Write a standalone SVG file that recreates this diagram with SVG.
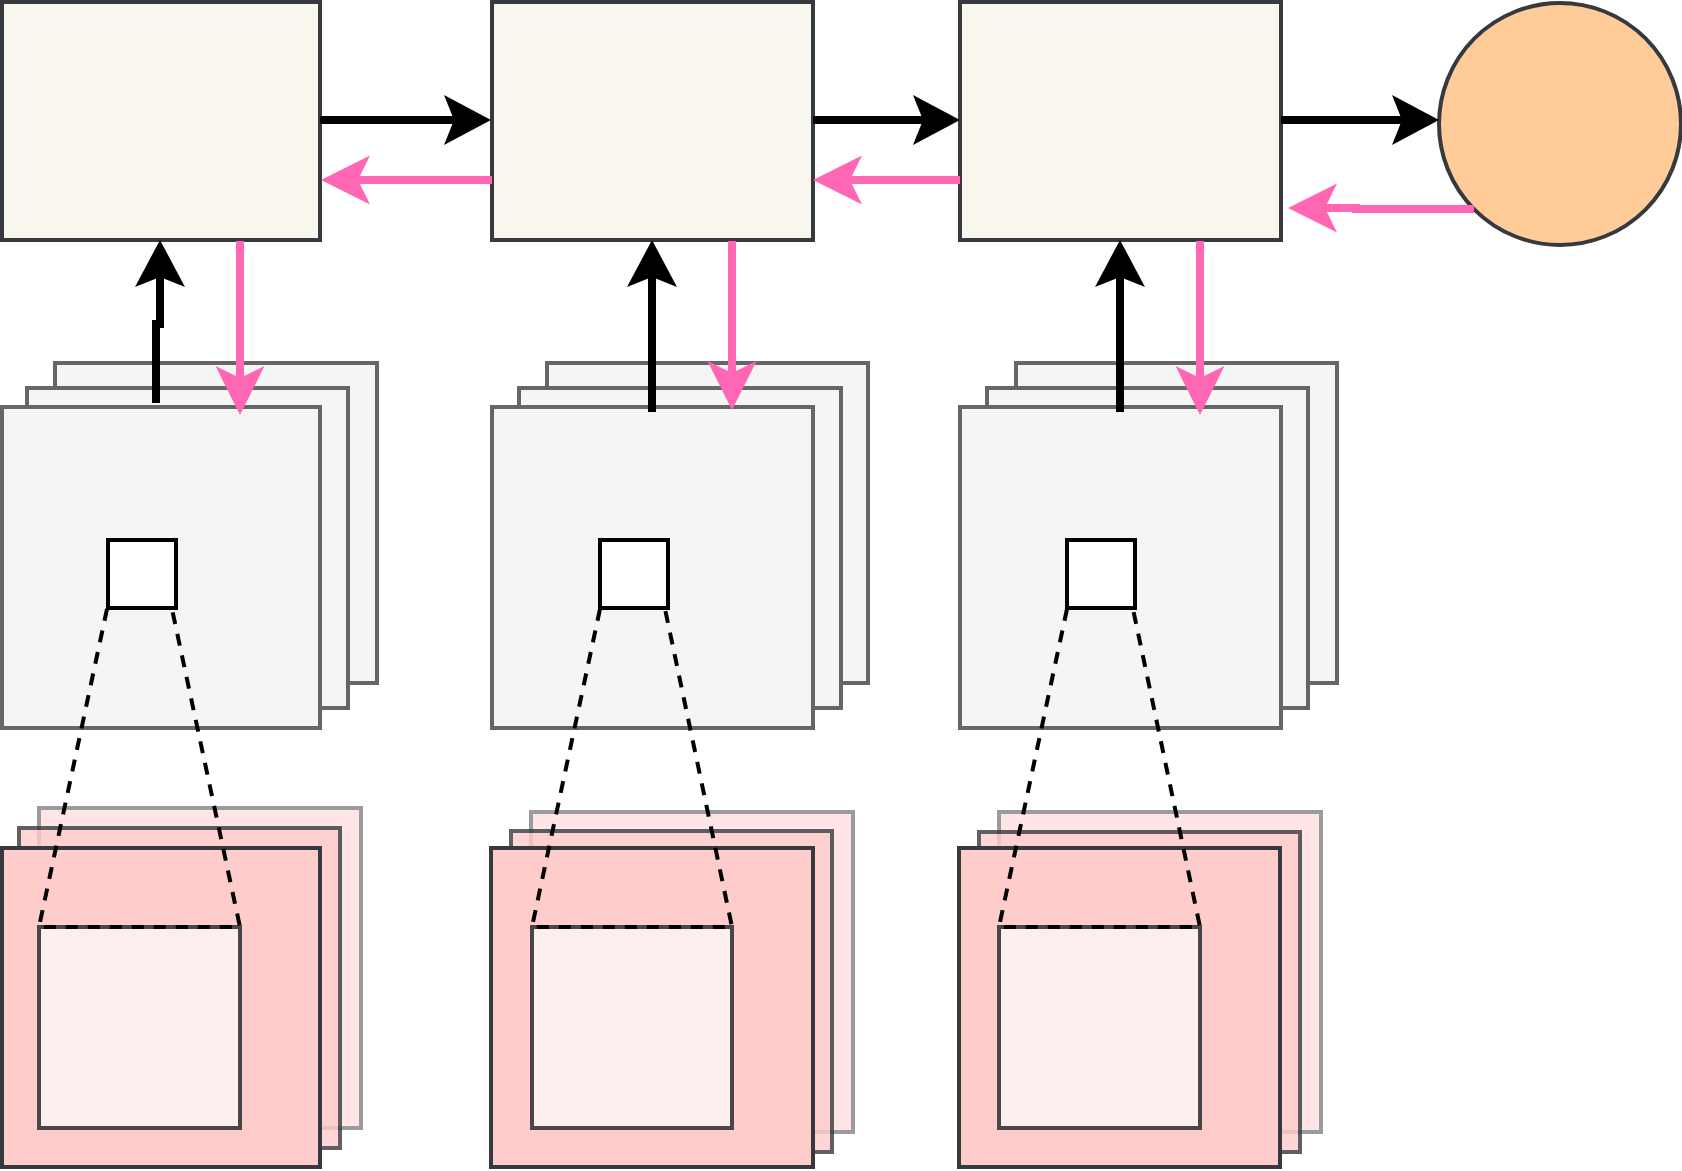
<svg xmlns="http://www.w3.org/2000/svg" width="1682" height="1171" viewBox="0 0 1682 1171">
<style>
.top{fill:#f9f7ed;stroke:#36393d;stroke-width:4}
.gray{fill:#f5f5f5;stroke:#666666;stroke-width:4}
.sq{fill:#ffffff;stroke:#000000;stroke-width:4}
.pk{fill:#ffcccc;stroke:#36393d;stroke-width:4}
.pk50{opacity:0.5}
.pk80{opacity:0.8}
.inner{fill:#fdeeee;stroke:#4a4548;stroke-width:4}
.blk{fill:none;stroke:#000000;stroke-width:8}
.pnk{fill:none;stroke:#ff66b3;stroke-width:8}
.dash{fill:none;stroke:#000000;stroke-width:4;stroke-dasharray:12 10}
</style>
<defs>
<marker id="ab" markerUnits="userSpaceOnUse" markerWidth="120" markerHeight="120" refX="0" refY="0" viewBox="-60 -60 120 120" orient="auto" overflow="visible">
<path d="M37,0 L-10,-25 L0,0 L-10,25 Z" fill="#000000"/>
</marker>
<marker id="ap" markerUnits="userSpaceOnUse" markerWidth="120" markerHeight="120" refX="0" refY="0" viewBox="-60 -60 120 120" orient="auto" overflow="visible">
<path d="M37,0 L-12,-24.5 L0,0 L-12,24.5 Z" fill="#ff66b3"/>
</marker>
</defs>
<rect width="1682" height="1171" fill="#ffffff"/>

<g id="stack1">
<rect class="gray" x="55" y="363" width="322" height="320"/>
<rect class="gray" x="27" y="388" width="321" height="320"/>
<rect class="gray" x="2" y="407" width="318" height="321"/>
<rect class="sq" x="108" y="540" width="68" height="68"/>
</g>
<g id="stack2">
<rect class="gray" x="547" y="363" width="321" height="320"/>
<rect class="gray" x="519" y="388" width="322" height="320"/>
<rect class="gray" x="492" y="407" width="321" height="321"/>
<rect class="sq" x="600" y="540" width="68" height="68"/>
</g>
<g id="stack3">
<rect class="gray" x="1016" y="363" width="321" height="320"/>
<rect class="gray" x="987" y="388" width="321" height="320"/>
<rect class="gray" x="960" y="407" width="321" height="321"/>
<rect class="sq" x="1067" y="540" width="68" height="68"/>
</g>

<g id="box1"><rect class="top" x="2" y="2" width="318" height="238"/></g>
<g id="box2"><rect class="top" x="492" y="2" width="321" height="238"/></g>
<g id="box3"><rect class="top" x="960" y="2" width="321" height="238"/></g>
<g id="circle"><circle cx="1560" cy="124" r="121" fill="#ffcc99" stroke="#36393d" stroke-width="4"/></g>

<g id="feat1">
<rect class="pk pk50" x="39" y="808" width="322" height="320"/>
<rect class="pk pk80" x="19" y="828" width="321" height="320"/>
<rect class="pk" x="2" y="848" width="318" height="319"/>
<rect class="inner" x="39" y="927" width="201" height="201"/>
</g>
<g id="feat2">
<rect class="pk pk50" x="531" y="812" width="322" height="320"/>
<rect class="pk pk80" x="511" y="831" width="321" height="321"/>
<rect class="pk" x="491" y="848" width="322" height="319"/>
<rect class="inner" x="532" y="927" width="200" height="201"/>
</g>
<g id="feat3">
<rect class="pk pk50" x="999" y="812" width="322" height="320"/>
<rect class="pk pk80" x="979" y="832" width="321" height="320"/>
<rect class="pk" x="959" y="848" width="321" height="319"/>
<rect class="inner" x="999" y="927" width="201" height="201"/>
</g>

<g id="connectors">
<path class="blk" d="M320,120 H454" marker-end="url(#ab)"/>
<path class="blk" d="M813,120 H923" marker-end="url(#ab)"/>
<path class="blk" d="M1281,120 H1402" marker-end="url(#ab)"/>
<path class="pnk" d="M492,180 H358" marker-end="url(#ap)"/>
<path class="pnk" d="M960,180 H850" marker-end="url(#ap)"/>
<path class="pnk" d="M1474,209 H1356 V208 H1325" marker-end="url(#ap)"/>
<path class="blk" d="M156,403 V324 H160 V277" marker-end="url(#ab)"/>
<path class="blk" d="M652,412 V277" marker-end="url(#ab)"/>
<path class="blk" d="M1120,412 V277" marker-end="url(#ab)"/>
<path class="pnk" d="M240,241 V378" marker-end="url(#ap)"/>
<path class="pnk" d="M732,241 V373" marker-end="url(#ap)"/>
<path class="pnk" d="M1200,241 V378" marker-end="url(#ap)"/>
<path class="dash" d="M107,609 L39,927 H240 L172,609"/>
<path class="dash" d="M600,609 L532,927 H732 L665,609"/>
<path class="dash" d="M1067,609 L999,927 H1200 L1133,609"/>
</g>
</svg>
